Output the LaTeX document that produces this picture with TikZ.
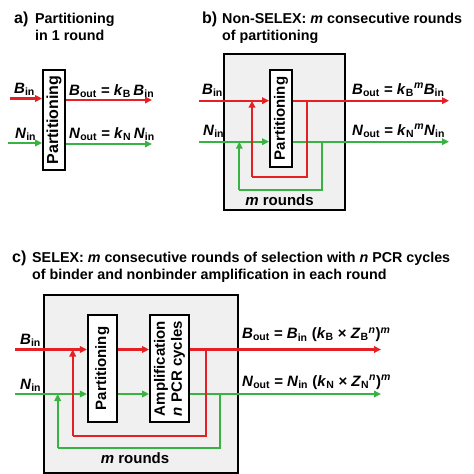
\documentclass[tikz,border=0pt]{standalone}
\usepackage{fontspec}
\setmainfont{Liberation Sans}
\usetikzlibrary{arrows.meta}
\definecolor{selred}{RGB}{228,32,36}
\definecolor{selgreen}{RGB}{56,178,64}
\definecolor{selgray}{RGB}{240,240,240}

\begin{document}
\begin{tikzpicture}[x=1pt,y=-1pt,
  every node/.style={inner sep=0pt,font=\bfseries\fontsize{15}{17}\selectfont},
  hd/.style={anchor=base west,align=left,font=\bfseries\fontsize{14.3}{17}\selectfont},
  tag/.style={anchor=base west,font=\bfseries\fontsize{16}{17}\selectfont},
  lbl/.style={anchor=base west},
  part/.style={draw,line width=1.8pt,fill=white,rotate=90,align=center},
  grp/.style={draw,line width=1.8pt,fill=selgray,anchor=north west},
  rline/.style={selred,line width=2.3pt,-{Triangle[length=7pt,width=6.5pt]}},
  gline/.style={selgreen,line width=2.3pt,-{Triangle[length=7pt,width=6.5pt]}},
  rloop/.style={selred,line width=2.3pt},
  gloop/.style={selgreen,line width=2.3pt}]
\useasboundingbox[fill=white] (0,0) rectangle (474,474);
\node[tag] (ta) at (14,23) {a)};
\node[hd] (ha) at (35,40) {Partitioning\\in 1 round};
\node[part,minimum width=100,minimum height=22,font=\bfseries\fontsize{16}{17}\selectfont] (pa) at (54,120) {Partitioning};
\coordinate (abi) at (10,98.5);
\coordinate (abo) at (152,100);
\coordinate (ani) at (8,143);
\coordinate (ano) at (152,144);
\draw[rline] (abi) -- (pa.north |- abi);
\draw[rline] (pa.south |- abo) -- (abo);
\draw[gline] (ani) -- (pa.north |- ani);
\draw[gline] (pa.south |- ano) -- (ano);
\node[lbl] (labi) at (14,93) {\textit{B}\textsubscript{in}};
\node[lbl] (lani) at (15,138) {\textit{N}\textsubscript{in}};
\node[lbl] (labo) at (69,95) {\textit{B}\textsubscript{out} = \textit{k}\textsubscript{B}\,\textit{B}\textsubscript{in}};
\node[lbl] (lano) at (69,138) {\textit{N}\textsubscript{out} = \textit{k}\textsubscript{N}\,\textit{N}\textsubscript{in}};

\node[tag] (tb) at (202,23) {b)};
\node[hd] (hb) at (222,40) {Non-SELEX: \textit{m} consecutive rounds\\of partitioning};
\node[grp,minimum width=121,minimum height=156] (gb) at (223,53) {};
\node[part,minimum width=97,minimum height=22] (pb) at (281,118.5) {Partitioning};
\coordinate (bbi) at (199,100.7);
\coordinate (bbo) at (449,100.7);
\coordinate (bni) at (199,141.7);
\coordinate (bno) at (449,141.7);
\coordinate (bg1) at (322.3,190);
\coordinate (bg2) at (239.3,190);
\coordinate (br1) at (307,176.7);
\coordinate (br2) at (252,176.7);
\draw[gline] (bni) -- (pb.north |- bni);
\draw[gline] (pb.south |- bno) -- (bno);
\draw[gloop] (bg1 |- bno) -- (bg1) -- (bg2);
\draw[gline] (bg2) -- (bg2 |- bni);
\draw[rline] (bbi) -- (pb.north |- bbi);
\draw[rline] (pb.south |- bbo) -- (bbo);
\draw[rloop] (br1 |- bbo) -- (br1) -- (br2);
\draw[rline] (br2) -- (br2 |- bbi);
\node[lbl] (lbbi) at (202,94) {\textit{B}\textsubscript{in}};
\node[lbl] (lbni) at (203,135) {\textit{N}\textsubscript{in}};
\node[lbl] (lbbo) at (352,94) {\textit{B}\textsubscript{out} = \textit{k}\textsubscript{B}\textsuperscript{\textit{m}}\textit{B}\textsubscript{in}};
\node[lbl] (lbno) at (352,135) {\textit{N}\textsubscript{out} = \textit{k}\textsubscript{N}\textsuperscript{\textit{m}}\textit{N}\textsubscript{in}};
\node (rb) at (279.5,200) {\textit{m} rounds};

\node[tag] (tc) at (12,262) {c)};
\node[hd] (hc) at (32,279) {SELEX: \textit{m} consecutive rounds of selection with \textit{n} PCR cycles\\of binder and nonbinder amplification in each round};
\node[grp,minimum width=194,minimum height=178] (gc) at (43,294) {};
\node[part,minimum width=107,minimum height=29] (pc) at (102.3,368.5) {Partitioning};
\node[part,minimum width=107,minimum height=39] (ac) at (169.5,368.5) {Amplification\\\textit{n} PCR cycles};
\coordinate (cbi) at (15,349.5);
\coordinate (cbo) at (381,349.5);
\coordinate (cni) at (15,394);
\coordinate (cno) at (381,394);
\coordinate (cg1) at (220,448.3);
\coordinate (cg2) at (57.7,448.3);
\coordinate (cr1) at (205.7,436);
\coordinate (cr2) at (72.7,436);
\draw[gline] (cni) -- (pc.north |- cni);
\draw[gline] (pc.south |- cni) -- (ac.north |- cni);
\draw[gline] (ac.south |- cno) -- (cno);
\draw[gloop] (cg1 |- cno) -- (cg1) -- (cg2);
\draw[gline] (cg2) -- (cg2 |- cni);
\draw[rline] (cbi) -- (pc.north |- cbi);
\draw[rline] (pc.south |- cbi) -- (ac.north |- cbi);
\draw[rline] (ac.south |- cbo) -- (cbo);
\draw[rloop] (cr1 |- cbo) -- (cr1) -- (cr2);
\draw[rline] (cr2) -- (cr2 |- cbi);
\node[lbl] (lcbi) at (20,344) {\textit{B}\textsubscript{in}};
\node[lbl] (lcni) at (20,389) {\textit{N}\textsubscript{in}};
\node[lbl] (lcbo) at (242,338.5) {\textit{B}\textsubscript{out} = \textit{B}\textsubscript{in} (\textit{k}\textsubscript{B} × \textit{Z}\textsubscript{B}\textsuperscript{\textit{n}})\textsuperscript{\textit{m}}};
\node[lbl] (lcno) at (242,386) {\textit{N}\textsubscript{out} = \textit{N}\textsubscript{in} (\textit{k}\textsubscript{N} × \textit{Z}\textsubscript{N}\textsuperscript{\textit{n}})\textsuperscript{\textit{m}}};
\node (rc) at (135,458) {\textit{m} rounds};
\end{tikzpicture}
\end{document}
